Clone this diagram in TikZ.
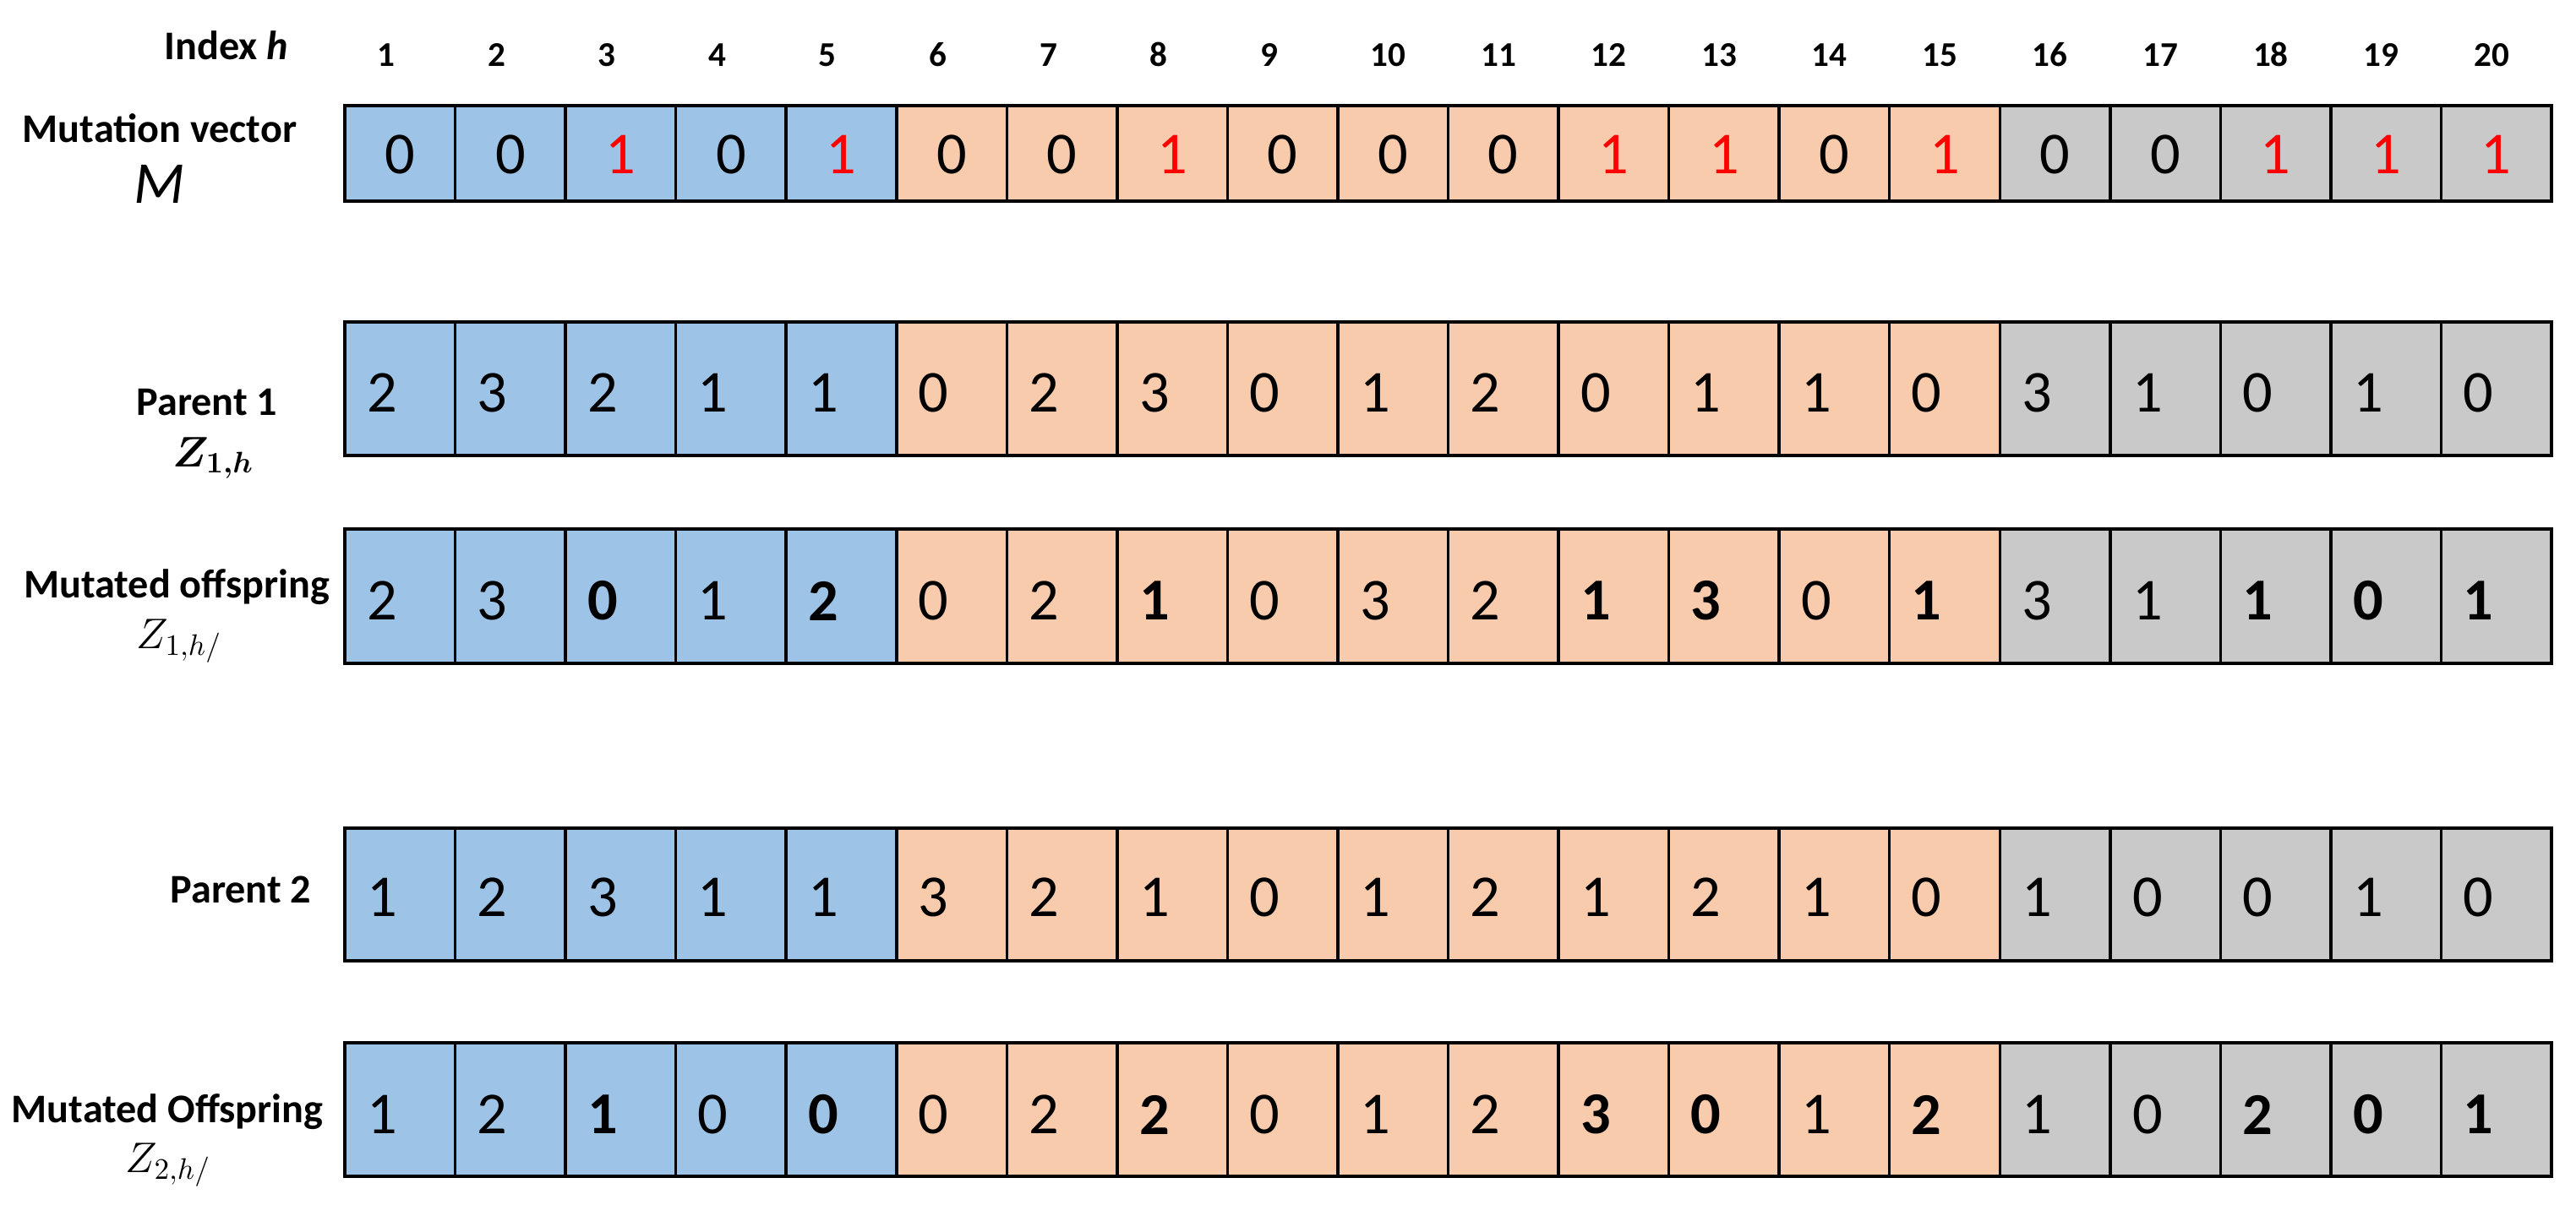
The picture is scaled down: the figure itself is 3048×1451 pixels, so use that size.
\documentclass[tikz,border=0pt]{standalone}
\usepackage{amsmath, amssymb}
\usepackage{fontspec}
\setmainfont{Carlito}
\usepackage{tikz}

\definecolor{cellblue}{HTML}{9DC3E6}
\definecolor{cellorange}{HTML}{F8CBAD}
\definecolor{cellgray}{HTML}{C9C9C9}

\begin{document}
\begin{tikzpicture}[x=0.01cm,y=-0.01cm,
  rowlabel/.style={font=\fontsize{13.7}{15}\selectfont\bfseries,inner sep=0pt,anchor=base},
  idxlabel/.style={font=\fontsize{11.7}{14}\selectfont\bfseries,inner sep=0pt,anchor=base west},
  digit/.style={font=\fontsize{20}{24}\selectfont,inner sep=0pt},
  zlabel/.style={font=\fontsize{14.5}{16}\selectfont,inner sep=0pt,anchor=base west}]
\useasboundingbox (0,0) rectangle (3048,1451);
% the five rows of cells
\foreach \ya/\yb in {125/238,381/539,626/785,980/1137,1234/1392}{
  \fill[cellblue] (408,\ya) rectangle (1060.75,\yb);
  \fill[cellorange] (1060.75,\ya) rectangle (2366.25,\yb);
  \fill[cellgray] (2366.25,\ya) rectangle (3019,\yb);
  \foreach \i in {1,...,19}
    \draw[line width=1pt] ({408+\i*130.55},\ya) -- ({408+\i*130.55},\yb);
  \draw[line width=1.4pt] (408,\ya) rectangle (3019,\yb);
}
% labels on the left
\node[rowlabel,anchor=base east] (idx) at (342,70) {Index \textit{h}};
\node[rowlabel] (mlabel) at (189,168) {Mutation vector};
\node[font=\fontsize{20}{22}\selectfont\itshape,inner sep=0pt,anchor=base] (mname) at (189,240) {M};
\node[rowlabel] (p1label) at (245,491) {Parent 1};
\node[zlabel] (z1) at (204,552) {$\boldsymbol{Z_{1,h}}$};
\node[rowlabel] (o1label) at (209,707) {Mutated offspring};
\node[zlabel] (z1m) at (161,767) {$Z_{1,h/}$};
\node[rowlabel] (p2label) at (285,1068) {Parent 2};
\node[rowlabel] (o2label) at (198,1328) {Mutated Offspring};
\node[zlabel] (z2m) at (148,1387) {$Z_{2,h/}$};
% index numbers
\foreach \i in {1,...,20}
  \node[idxlabel] (h\i) at ({408+(\i-1)*130.55+38},78) {\i};
% mutation vector
\foreach \v [count=\i] in {0,0,1,0,1,0,0,1,0,0,0,1,1,0,1,0,0,1,1,1}
  \node[digit] (m\i) at ({408+(\i-0.5)*130.55},183) {\ifnum\v=1 \textcolor{red}{1}\else 0\fi};
% parent 1
\foreach \v [count=\i] in {2,3,2,1,1,0,2,3,0,1,2,0,1,1,0,3,1,0,1,0}
  \node[digit] (pa\i) at ({408+(\i-1)*130.55+44},465) {\v};
% mutated offspring 1
\foreach \v/\b [count=\i] in {2/0,3/0,0/1,1/0,2/1,0/0,2/0,1/1,0/0,3/0,2/0,1/1,3/1,0/0,1/1,3/0,1/0,1/1,0/1,1/1}
  \node[digit] (oa\i) at ({408+(\i-1)*130.55+44},711) {\ifnum\b=1 \bfseries\fi\v};
% parent 2
\foreach \v [count=\i] in {1,2,3,1,1,3,2,1,0,1,2,1,2,1,0,1,0,0,1,0}
  \node[digit] (pb\i) at ({408+(\i-1)*130.55+44},1062) {\v};
% mutated offspring 2
\foreach \v/\b [count=\i] in {1/0,2/0,1/1,0/0,0/1,0/0,2/0,2/1,0/0,1/0,2/0,3/1,0/1,1/0,2/1,1/0,0/0,2/1,0/1,1/1}
  \node[digit] (ob\i) at ({408+(\i-1)*130.55+44},1319) {\ifnum\b=1 \bfseries\fi\v};
\end{tikzpicture}
\end{document}
